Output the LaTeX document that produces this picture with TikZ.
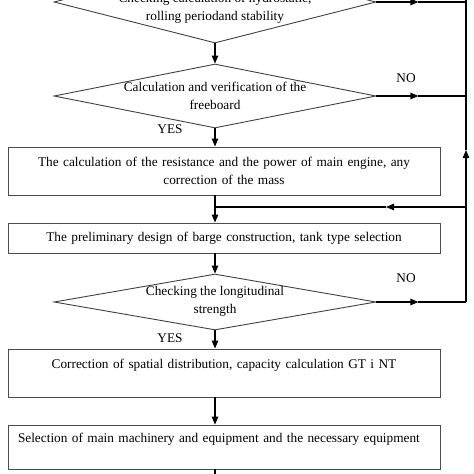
\documentclass[tikz,border=0pt]{standalone}
\usepackage{fontspec}
\setmainfont{Liberation Serif}
\usetikzlibrary{arrows.meta,shapes.geometric}

\begin{document}
\begin{tikzpicture}[x=1pt, y=-1pt, >={Triangle[length=8pt,width=6.5pt]},
    font=\fontsize{13.3}{18}\selectfont,
    box/.style={draw=black!70, line width=.9pt, text width=412pt, inner xsep=10pt, inner ysep=0pt, align=center},
    dia/.style={draw=black!75, line width=.9pt, diamond, inner sep=0pt},
    arr/.style={->, line width=1.1pt},
    ln/.style={line width=1.1pt}]
    \useasboundingbox (0,0) rectangle (474,474);
    \clip (0,0) rectangle (474,474);
    \node[dia, minimum width=322pt, minimum height=82pt] (hydro) at (215,2) {};
    \node[align=center] (hydrotxt) at (215,8) {Checking calculation of hydrostatic,\\rolling periodand stability};
    \node[dia, minimum width=322pt, minimum height=64pt] (fb) at (215,96) {};
    \node[align=center] (fbtxt) at (215,96) {Calculation and verification of the\\freeboard};
    \node[box, minimum height=48pt] (calc) at (224,171) {The calculation of the resistance and the power of main engine, any\\correction of the mass};
    \node[box, minimum height=30pt] (prel) at (224,238) {The preliminary design of barge construction, tank type selection};
    \node[dia, minimum width=322pt, minimum height=56pt] (lng) at (215,302) {};
    \node[align=center] (lngtxt) at (215,301) {Checking the longitudinal\\strength};
    \node[box, minimum height=48pt] (corr) at (224,373) {Correction of spatial distribution, capacity calculation GT i NT\\\mbox{}};
    \node[box, align=left, minimum height=44pt] (sel) at (224,447) {Selection of main machinery and equipment and the necessary equipment\\\mbox{}};
    \node (no1) at (406,78) {NO};
    \node (no2) at (406,278) {NO};
    \node (yes1) at (170,129) {YES};
    \node (yes2) at (170,338) {YES};
    \coordinate (railtop) at (466,-10);
    \coordinate (railmid) at (466,150);
    \coordinate (railbot) at (466,302);
    \coordinate (jn) at (215,207);
    \coordinate (jarr) at (386,207);
    \draw[arr] (hydro.south) -- (fb.north);
    \draw[arr] (fb.south) -- (fb.south |- calc.north);
    \draw[arr] (fb.south |- calc.south) -- (fb.south |- prel.north);
    \draw[arr] (fb.south |- prel.south) -- (lng.north);
    \draw[arr] (lng.south) -- (lng.south |- corr.north);
    \draw[arr] (lng.south |- corr.south) -- (lng.south |- sel.north);
    \draw[ln] (lng.south |- sel.south) -- ++(0,12);
    \draw[arr] (hydro.east) -- ++(42,0) coordinate (hno);
    \draw[ln] (hno) -- (hno -| railtop);
    \draw[arr] (fb.east) -- ++(42,0) coordinate (fbno);
    \draw[ln] (fbno) -- (fbno -| railtop);
    \draw[arr] (lng.east) -- ++(42,0) coordinate (lngno);
    \draw[ln] (lngno) -- (railbot);
    \draw[arr] (railbot) -- (railmid);
    \draw[ln] (railmid) -- (railtop);
    \draw[arr] (jn -| railtop) -- (jarr);
    \draw[ln] (jarr) -- (jn);
\end{tikzpicture}
\end{document}
